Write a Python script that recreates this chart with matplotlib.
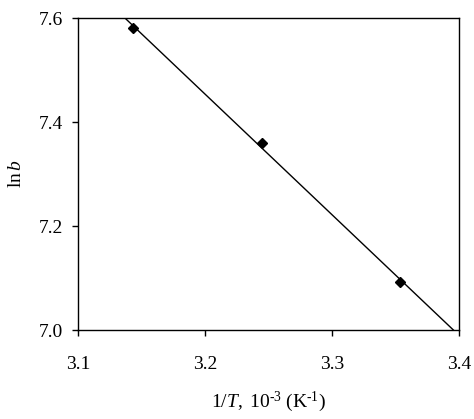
import numpy as np
import matplotlib
matplotlib.use("Agg")
import matplotlib.pyplot as plt

plt.rcParams['font.family'] = ['Liberation Serif', 'DejaVu Serif']
plt.rcParams['mathtext.fontset'] = 'custom'
plt.rcParams['mathtext.rm'] = 'Liberation Serif'
plt.rcParams['mathtext.it'] = 'Liberation Serif:italic'

inv_T = [3.143, 3.2445, 3.3535]
ln_b = [7.581, 7.360, 7.093]
xticks = [3.1, 3.2, 3.3, 3.4]
yticks = [7.0, 7.2, 7.4, 7.6]

fig = plt.figure(figsize=(4.74, 4.19), dpi=100)
ax = fig.add_axes([78/474, 1 - 330/419, (459-78)/474, (330-18)/419])

slope, intercept = np.polyfit(inv_T, ln_b, 1)
xl = np.array([3.1, 3.4])
ax.plot(xl, slope * xl + intercept, color='black', lw=1.0)
ax.plot(inv_T, ln_b, linestyle='none', marker='D', markersize=5.5, color='black')

ax.set_xlim(3.1, 3.4)
ax.set_ylim(7.0, 7.6)
ax.set_xticks(xticks)
ax.set_xticklabels([f"{v:.1f}" for v in xticks])
ax.set_yticks(yticks)
ax.set_yticklabels([f"{v:.1f}" for v in yticks])
ax.tick_params(direction='out', length=4.5, width=1, labelsize=14, colors='black')
ax.tick_params(axis='x', pad=14)
ax.tick_params(axis='y', pad=6)
for s in ax.spines.values():
    s.set_linewidth(1.0)

ax.set_xlabel('$\\mathrm{1/}T\\mathrm{,\\ 10^{\u20103}\\ (K^{\u20101})}$', fontsize=14, labelpad=12)
ax.set_ylabel(r'$\mathrm{ln}\,b$', fontsize=14, labelpad=10)

fig.savefig('out.png', dpi=100)
